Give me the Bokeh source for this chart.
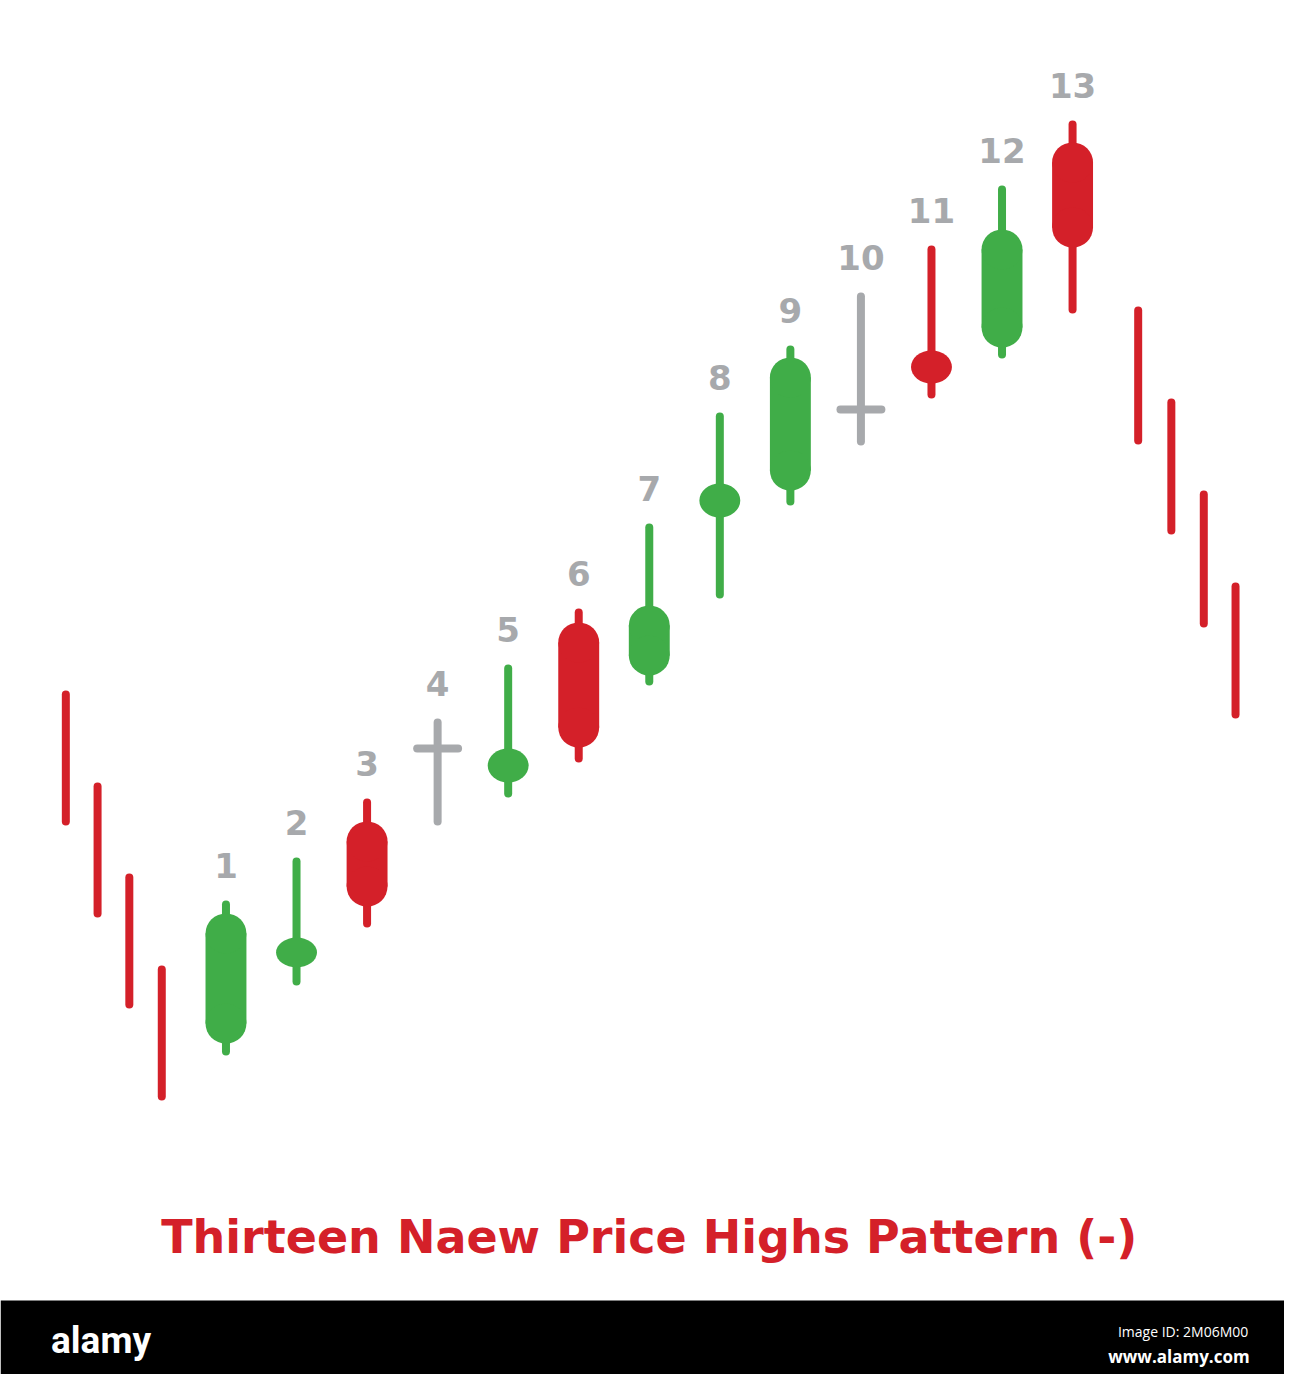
from bokeh.plotting import figure
from bokeh.models import Range1d, Label, BoxAnnotation, ColumnDataSource
from bokeh.embed import file_html
from bokeh.resources import INLINE
from bokeh.core.properties import value

# ---------------- data ----------------
# prior down-trend bars (high-low lines)
lead_x = [-1.27, -0.82, -0.37, 0.09]
lead_high = [60.6, 51.4, 42.3, 33.1]
lead_low = [47.9, 38.7, 29.6, 20.4]

# the thirteen pattern candles
candle_x = [1, 2, 3, 4, 5, 6, 7, 8, 9, 10, 11, 12, 13]
candle_labels = ["1", "2", "3", "4", "5", "6", "7", "8", "9", "10", "11", "12", "13"]
opens = [25.7, 33.3, 47.9, 55.2, 51.8, 67.8, 62.5, 78.3, 81.0, 89.1, 95.0, 95.3, 115.8]
closes = [38.7, 36.3, 39.4, 55.2, 55.2, 55.3, 69.5, 81.7, 94.3, 89.1, 91.7, 107.1, 105.3]
highs = [39.6, 43.9, 49.8, 57.8, 63.2, 68.8, 77.3, 88.4, 95.1, 100.4, 105.1, 111.1, 117.6]
lows = [24.9, 31.9, 37.7, 47.9, 50.7, 54.2, 61.9, 70.6, 79.9, 85.9, 90.6, 94.6, 99.1]

# following down-trend bars (high-low lines)
trail_x = [13.93, 14.40, 14.86, 15.31]
trail_high = [99.0, 89.8, 80.6, 71.4]
trail_low = [86.0, 77.0, 67.7, 58.6]

title_text = "Thirteen Naew Price Highs Pattern (-)"

# ---------------- styles ----------------
RED = "#d42029"
GREEN = "#40ad48"
GRAY = "#a7a9ac"
BODY_W = 0.58      # body width in x units
CAP_R = 2.0        # vertical radius of rounded body ends (y units)
WICK_W = 8

p = figure(width=1284, height=1374,
           x_range=Range1d(-2.196, 16.004), y_range=Range1d(-7.4, 130.0),
           x_axis_type=None, y_axis_type=None,
           output_backend="svg", toolbar_location=None, min_border=0)
p.outline_line_color = None
p.background_fill_color = "white"
p.border_fill_color = "white"

# lead & trail lines
p.segment(x0=lead_x, y0=lead_low, x1=lead_x, y1=lead_high,
          line_color=RED, line_width=WICK_W, line_cap="round")
p.segment(x0=trail_x, y0=trail_low, x1=trail_x, y1=trail_high,
          line_color=RED, line_width=WICK_W, line_cap="round")

# candles
colors = []
for o, c in zip(opens, closes):
    colors.append(GREEN if c > o else (RED if c < o else GRAY))

p.segment(x0=candle_x, y0=lows, x1=candle_x, y1=highs,
          line_color=colors, line_width=WICK_W, line_cap="round")

bar_x, bar_top, bar_bot, bar_col = [], [], [], []
el_x, el_y, el_h, el_col = [], [], [], []
dj_x0, dj_x1, dj_y = [], [], []
for x, o, c, col in zip(candle_x, opens, closes, colors):
    top, bot = max(o, c), min(o, c)
    h = top - bot
    if h == 0:
        dj_x0.append(x - BODY_W / 2)
        dj_x1.append(x + BODY_W / 2)
        dj_y.append(o)
    elif h > 2 * CAP_R:
        bar_x.append(x); bar_top.append(top - CAP_R); bar_bot.append(bot + CAP_R); bar_col.append(col)
        el_x += [x, x]; el_y += [top - CAP_R, bot + CAP_R]; el_h += [2 * CAP_R, 2 * CAP_R]; el_col += [col, col]
    else:
        el_x.append(x); el_y.append((top + bot) / 2); el_h.append(h); el_col.append(col)

p.vbar(x=bar_x, width=BODY_W, top=bar_top, bottom=bar_bot,
       fill_color=bar_col, line_color=None)
p.ellipse(x=el_x, y=el_y, width=BODY_W, height=el_h,
          fill_color=el_col, line_color=None)
p.segment(x0=dj_x0, y0=dj_y, x1=dj_x1, y1=dj_y,
          line_color=GRAY, line_width=WICK_W, line_cap="round")

# candle numbers
lab_src = ColumnDataSource(dict(x=candle_x, y=highs, t=candle_labels))
p.text(x="x", y="y", text="t", source=lab_src,
       text_font=value("DejaVu Sans"), text_font_style="bold",
       text_font_size="34px", text_color=GRAY,
       text_align="center", text_baseline="alphabetic", y_offset=-39)

# title
p.add_layout(Label(x=7.0, y=6.4, text=title_text,
                   text_font="DejaVu Sans", text_font_style="bold",
                   text_font_size="46px", text_color=RED,
                   text_align="center", text_baseline="alphabetic"))

# bottom banner
p.add_layout(BoxAnnotation(top=0, fill_color="black", fill_alpha=1.0,
                           line_color=None))
p.add_layout(Label(x=-1.48, y=-4.0, text="alamy",
                   text_font="Roboto", text_font_style="bold",
                   text_font_size="37px", text_color="white",
                   text_align="left", text_baseline="alphabetic"))
p.add_layout(Label(x=15.49, y=-3.07, text="Image ID: 2M06M00",
                   text_font="Open Sans", text_font_size="14px",
                   text_color="white", text_align="right",
                   text_baseline="alphabetic"))
p.add_layout(Label(x=15.51, y=-5.57, text="www.alamy.com",
                   text_font="Open Sans", text_font_style="bold",
                   text_font_size="17px", text_color="white",
                   text_align="right", text_baseline="alphabetic"))

open("out.html", "w").write(file_html(p, INLINE))
